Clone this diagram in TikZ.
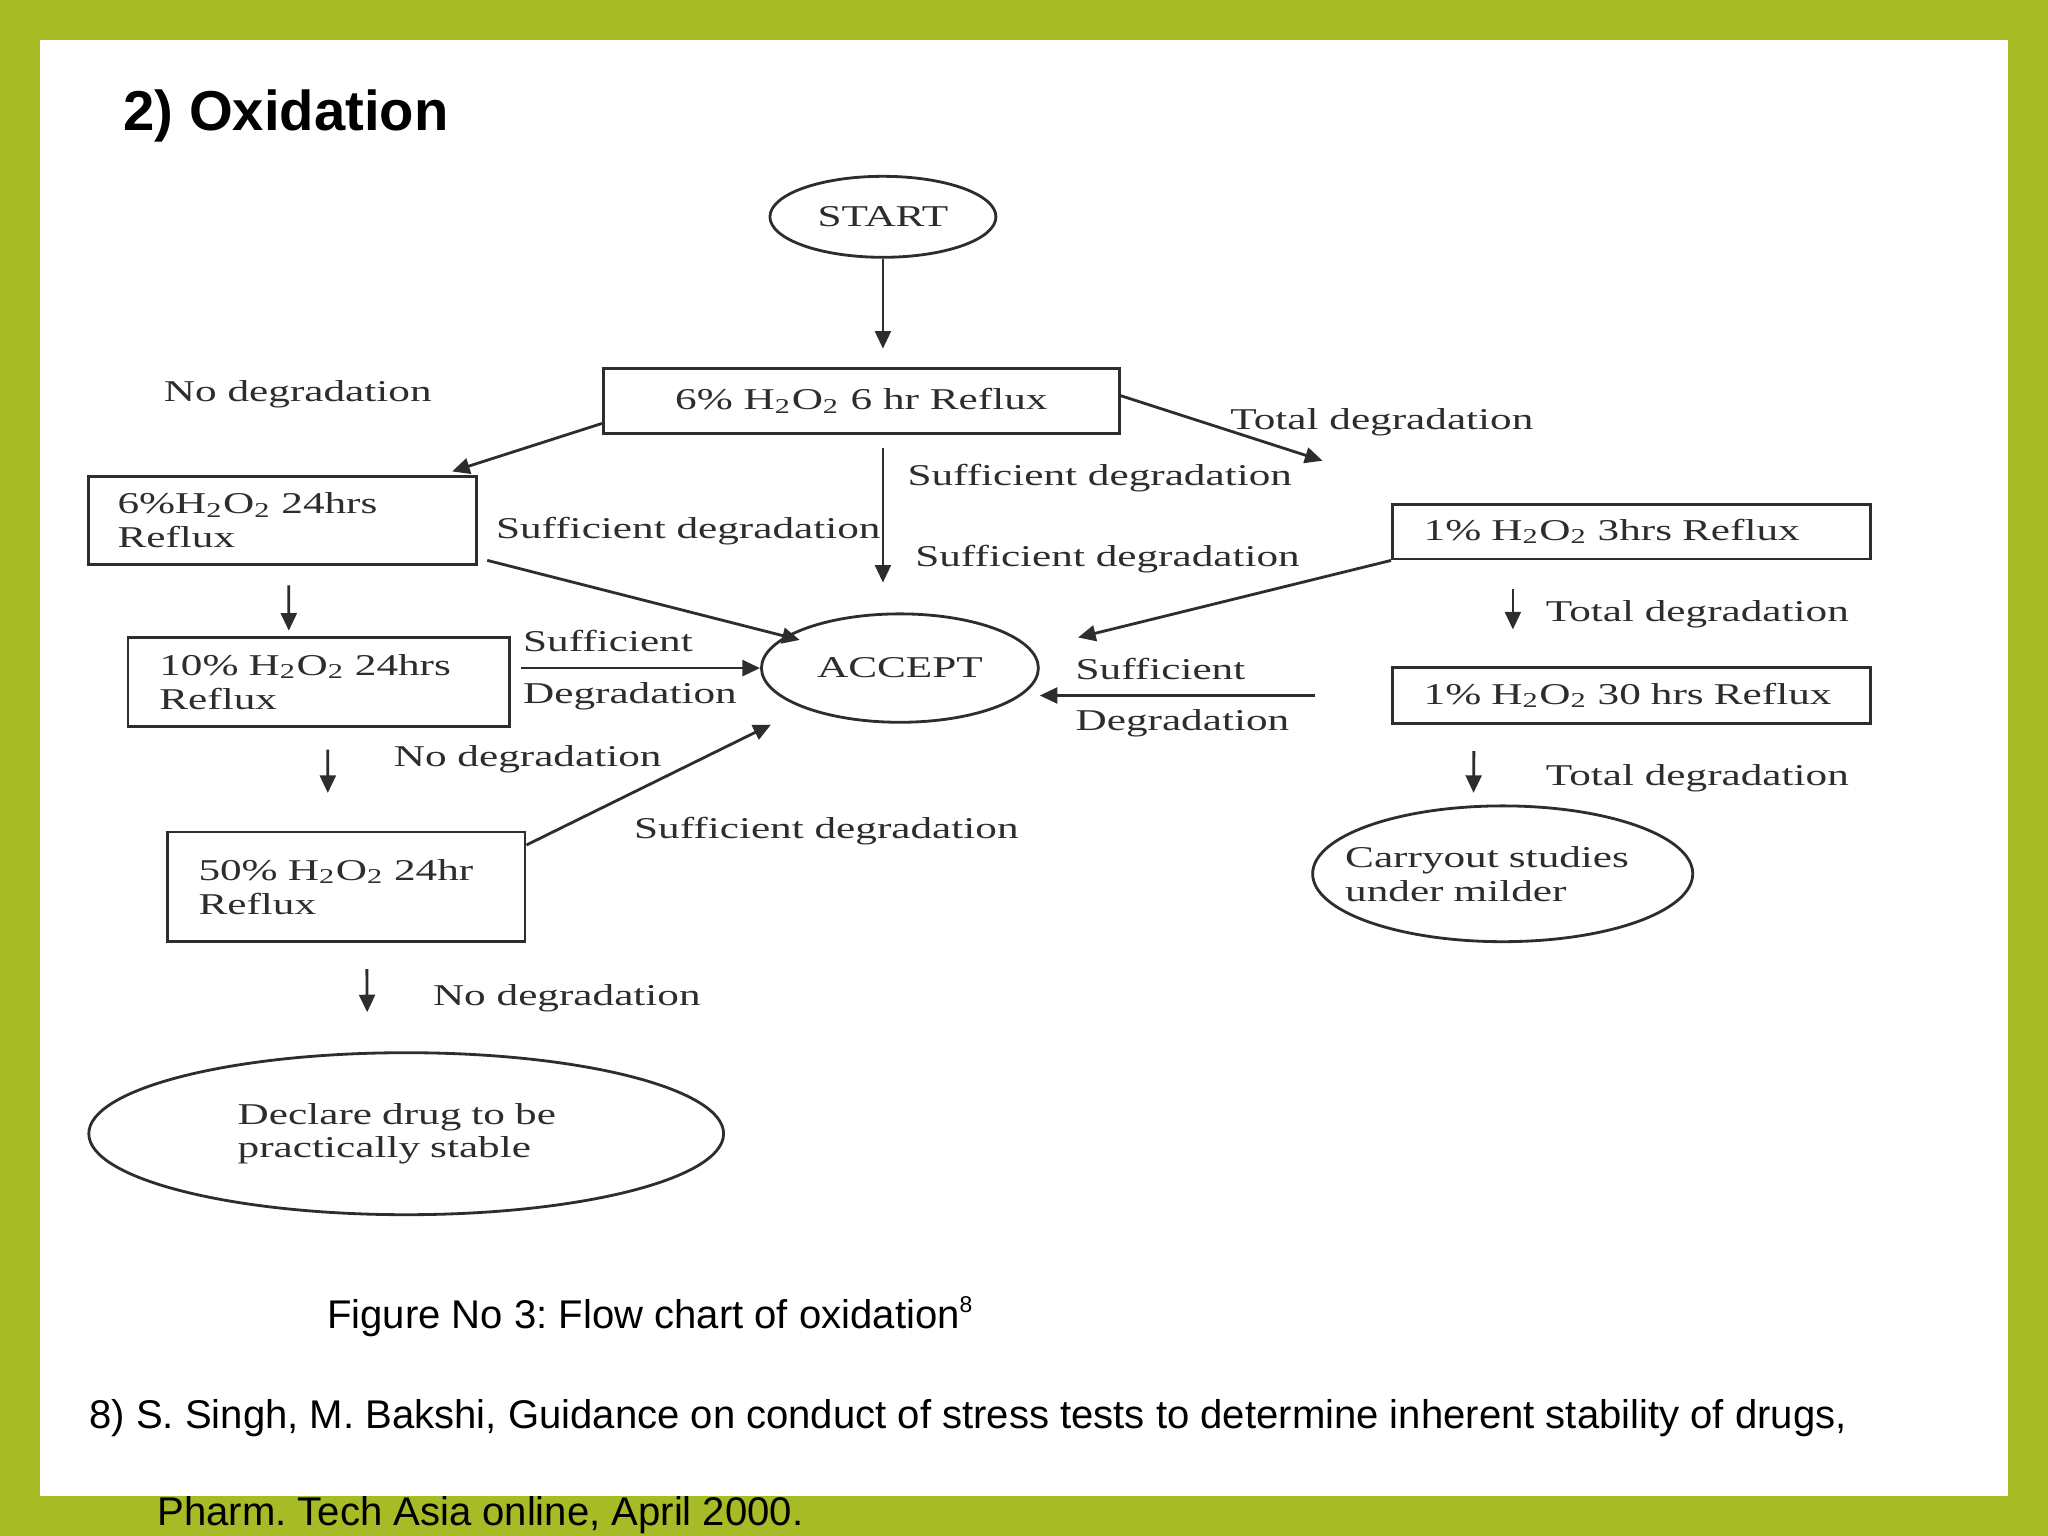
\documentclass[tikz,border=0pt]{standalone}
\usepackage{fontspec}
\setmainfont{Liberation Sans}
\newfontfamily\fcfont[FakeStretch=1.43]{Liberation Serif}
\usetikzlibrary{shapes.geometric,arrows.meta}
\definecolor{slidegreen}{RGB}{166,187,38}
\definecolor{inkc}{RGB}{45,45,45}
\newcommand\hoo{H\textsubscript{2}O\textsubscript{2}}
\frenchspacing
\begin{document}
\begin{tikzpicture}[x=0.013061cm,y=-0.013061cm,
  fc/.style={font=\fcfont\fontsize{8.6}{9.6}\selectfont, text=inkc},
  boxn/.style={fc, draw=inkc, line width=0.8pt, rectangle, inner sep=0pt},
  lboxn/.style={boxn, align=left, inner xsep=0.313cm},
  ovaln/.style={fc, draw=inkc, line width=0.8pt, ellipse, inner sep=0pt},
  lbl/.style={fc, inner sep=0pt},
  arr/.style={draw=inkc, line width=0.8pt, -{Triangle[length=5pt,width=4.5pt]}},
  slidetext/.style={anchor=west, inner sep=0pt, font=\fontsize{11.4}{13}\selectfont},
]
% slide background
\fill[slidegreen] (0,0) rectangle (1568,1176);
\fill[white] (31,31) rectangle (1537,1145);
\useasboundingbox (0,0) rectangle (1568,1176);

% title
\node[anchor=west, inner sep=0pt, font=\bfseries\fontsize{16}{19}\selectfont] (title) at (94,89) {2) Oxidation};

% nodes
\node[ovaln, minimum width=2.26cm, minimum height=0.81cm] (start) at (676,166) {START};
\node[boxn, minimum width=5.159cm, minimum height=0.653cm] (b1) at (659.5,307) {6\% \hoo{} 6 hr Reflux};
\node[boxn, align=left, inner xsep=0.287cm, text width=3.305cm, minimum height=0.875cm] (b2) at (216.5,398.5) {6\%\hoo{} 24hrs\\Reflux};
\node[lboxn, text width=3.187cm, minimum height=0.888cm] (b3) at (244,522) {10\% \hoo{} 24hrs\\Reflux};
\node[lboxn, text width=2.952cm, minimum height=1.097cm] (b4) at (265,679) {50\% \hoo{} 24hr\\Reflux};
\node[lboxn, text width=4.153cm, minimum height=0.549cm] (rb1) at (1249,407) {1\% \hoo{} 3hrs Reflux};
\node[lboxn, text width=4.153cm, minimum height=0.562cm] (rb2) at (1249,532.5) {1\% \hoo{} 30 hrs Reflux};
\node[ovaln, minimum width=2.769cm, minimum height=1.084cm] (acc) at (689,511.5) {ACCEPT};
\node[ovaln, align=left, text width=3.15cm, inner xsep=-14pt, inner ysep=-3pt, minimum width=3.801cm, minimum height=1.358cm] (carry) at (1150.5,669) {Carryout studies\\under milder};
\node[ovaln, align=left, text width=3.37cm, minimum width=6.348cm, minimum height=1.62cm] (declare) at (311,868) {Declare drug to be\\practically stable};

% labels
\node[lbl] (l1) at (228,302) {No degradation};
\node[lbl] (l2) at (1058,323) {Total degradation};
\node[lbl] (l3) at (842,366) {Sufficient degradation};
\node[lbl] (l4) at (527,407) {Sufficient degradation};
\node[lbl] (l5) at (848,428) {Sufficient degradation};
\node[lbl, anchor=west] (l6) at (400,491) {Sufficient};
\node[lbl, anchor=west] (l7) at (400,533) {Degradation};
\node[lbl, anchor=west] (l8) at (823,512) {Sufficient};
\node[lbl, anchor=west] (l9) at (823,554) {Degradation};
\node[lbl, anchor=west] (l10) at (1183,470) {Total degradation};
\node[lbl, anchor=west] (l11) at (1183,596) {Total degradation};
\node[lbl, anchor=west] (l12) at (301,581) {No degradation};
\node[lbl, anchor=west] (l13) at (485,636) {Sufficient degradation};
\node[lbl, anchor=west] (l14) at (331,764) {No degradation};

% connectors
\draw[arr, shorten >=5.2pt] (start.south) -- (start.south |- b1.north);
\draw[arr] ([yshift=3.3pt]b1.south west) -- ([xshift=-7.4pt,yshift=1.1pt]b2.north east);
\draw[arr] ([yshift=1.5pt]b1.east) -- ([xshift=57.4pt,yshift=-17pt]b1.east);
\draw[arr, shorten <=3.7pt, shorten >=8.5pt] (b1.south -| start.south) -- (acc.north -| start.south);
\draw[arr] (rb1.south west) -- ([xshift=50.7pt,yshift=8.7pt]acc.center);
\draw[arr] ([xshift=2.6pt,yshift=1.5pt]b2.south east) -- ([xshift=-28.5pt,yshift=8pt]acc.center);
\draw[arr] ([xshift=1.7pt,yshift=-5.6pt]b2.south) -- ([xshift=-8.5pt,yshift=1.5pt]b3.north);
\draw[arr, shorten <=3pt] (b3.east |- acc.west) -- (acc.west);
\draw[arr, shorten <=21.5pt] (rb2.west) -- (acc.east |- rb2.west);
\draw[arr] ([xshift=-33.7pt,yshift=-8.1pt]rb1.south) -- ([xshift=-33.7pt,yshift=10.4pt]rb2.north);
\draw[arr] ([xshift=-44.8pt,yshift=-7.4pt]rb2.south) -- ([xshift=-8.3pt,yshift=3.3pt]carry.north);
\draw[arr] ([xshift=2.6pt,yshift=-6.3pt]b3.south) -- ([xshift=-5.2pt,yshift=10.7pt]b4.north);
\draw[arr] ([yshift=-4.1pt]b4.north east) -- ([xshift=-36.7pt,yshift=-16.1pt]acc.center);
\draw[arr] ([xshift=5.9pt,yshift=-7.4pt]b4.south) -- ([xshift=-11.1pt,yshift=11.1pt]declare.north);

% caption and reference
\node[slidetext] (cap) at (250,1008) {Figure No 3: Flow chart of oxidation\raisebox{4.5pt}{\fontsize{6.5}{7}\selectfont 8}};
\node[slidetext] (ref1) at (68,1086) {8) S. Singh, M. Bakshi, Guidance on conduct of stress tests to determine inherent stability of drugs,};
\node[slidetext] (ref2) at (120,1160) {Pharm. Tech Asia online, April 2000.};
\end{tikzpicture}
\end{document}
